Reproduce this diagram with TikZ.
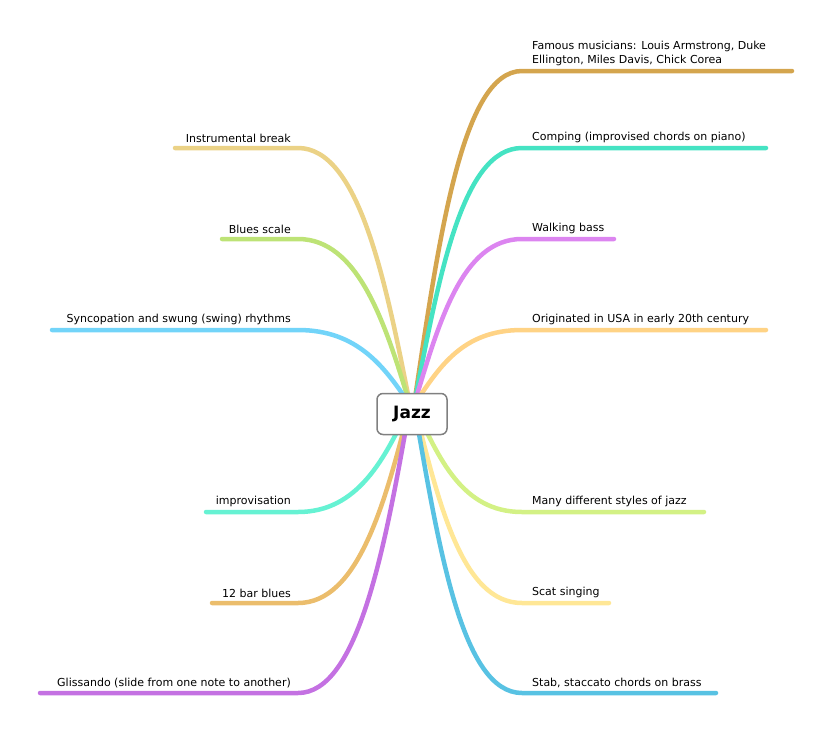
\documentclass[tikz,border=0pt]{standalone}
\usepackage{fontspec}
\setmainfont{DejaVu Sans}
\usetikzlibrary{calc}
\begin{document}
\begin{tikzpicture}[x=1pt,y=-1pt,
  br/.style={line width=4.5pt,line cap=round},
  lab/.style={font=\fontsize{11}{14}\selectfont,inner sep=0pt,align=left}]
\useasboundingbox (0,0) rectangle (830,737);
\coordinate (cr) at (414,405);
\coordinate (cl) at (410,405);
% right branches: y, end x, color, text
\foreach \n/\y/\xe/\col/\t in {
 r1/71/792/D4A54E/{Famous musicians: Louis Armstrong, Duke\\Ellington, Miles Davis, Chick Corea},
 r2/148/766/45E3C3/{Comping (improvised chords on piano)},
 r3/239/614/DC85F0/{Walking bass},
 r4/330/766/FFD385/{Originated in USA in early 20th century},
 r5/512/704/D3F185/{Many different styles of jazz},
 r6/603/609/FFE796/{Scat singing},
 r7/693/716/58C2E3/{Stab, staccato chords on brass}}{
  \definecolor{c\n}{HTML}{\col}
  \coordinate (\n a) at (522,\y);
  \coordinate (\n b) at (\xe,\y);
  \node[lab,anchor=south west] (\n t) at (532,\y-5) {\t};
  \draw[br,c\n] (cr) .. controls ($(cr)!0.5!(cr|-\n a)+(25,0)$) and ($(\n a)+(-60,0)$) .. (\n a) -- (\n b);
}
\foreach \n/\y/\xe/\col/\t in {
 l1/148/175/EBD286/{Instrumental break},
 l2/239/222/BDE376/{Blues scale},
 l3/330/52/72D4F9/{Syncopation and swung (swing) rhythms},
 l4/512/206/66F2D3/{improvisation},
 l5/603/212/EBBD6C/{12 bar blues},
 l6/693/40/C471E2/{Glissando (slide from one note to another)}}{
  \definecolor{c\n}{HTML}{\col}
  \coordinate (\n a) at (298,\y);
  \coordinate (\n b) at (\xe,\y);
  \node[lab,anchor=south east] (\n t) at (291,\y-5) {\t};
  \draw[br,c\n] (cl) .. controls ($(cl)!0.5!(cl|-\n a)+(-25,0)$) and ($(\n a)+(60,0)$) .. (\n a) -- (\n b);
}
\node[draw=gray,line width=1.5pt,rounded corners=6pt,fill=white,
  minimum width=70pt,minimum height=41pt,font=\bfseries\fontsize{17}{20}\selectfont] (jazz) at (412,414) {Jazz};
\end{tikzpicture}
\end{document}
